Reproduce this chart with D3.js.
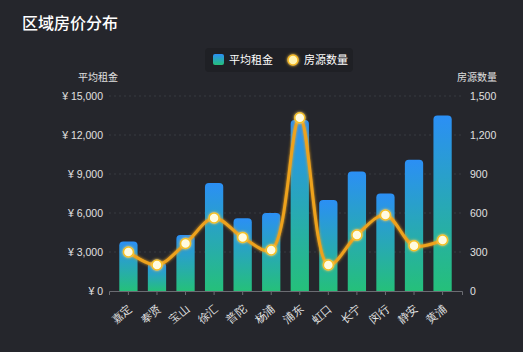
<!DOCTYPE html>
<html>
<head>
<meta charset="utf-8">
<script src="https://cdn.jsdelivr.net/npm/d3@7/dist/d3.min.js"></script>
<style>
  html, body { margin: 0; padding: 0; background: #25262c; }
  svg { display: block; font-family: "Noto Sans CJK SC", "Noto Sans", sans-serif; }
</style>
</head>
<body>
<div id="chart"></div>
<script>
// data
const districts = ["嘉定", "奉贤", "宝山", "徐汇", "普陀", "杨浦", "浦东", "虹口", "长宁", "闵行", "静安", "黄浦"]
const avgRent = [3800, 2200, 4300, 8300, 5600, 6000, 13150, 7000, 9200, 7500, 10100, 13500]
const listingCount = [300, 200, 365, 562, 412, 315, 1333, 200, 430, 585, 348, 392]
const rentTicks = [0, 3000, 6000, 9000, 12000, 15000]
const countTicks = [0, 300, 600, 900, 1200, 1500]

const W = 523, H = 352
const margin = {top: 96, right: 61, bottom: 61, left: 109},
    width = W - margin.left - margin.right,
    height = H - margin.top - margin.bottom

const svg = d3.select("#chart")
    .append("svg")
    .attr("width", W)
    .attr("height", H)

const defs = svg.append("defs")

// bar gradient blue -> green
const grad = defs.append("linearGradient")
    .attr("id", "barGrad")
    .attr("x1", 0).attr("y1", 0).attr("x2", 0).attr("y2", 1)
grad.append("stop").attr("offset", "0%").attr("stop-color", "#2b8ff5")
grad.append("stop").attr("offset", "100%").attr("stop-color", "#25c07a")

// glow for line and dots
const glow = defs.append("filter").attr("id", "glow")
    .attr("x", "-50%").attr("y", "-50%").attr("width", "200%").attr("height", "200%")
glow.append("feGaussianBlur").attr("stdDeviation", 1.5).attr("result", "blur")
const merge = glow.append("feMerge")
merge.append("feMergeNode").attr("in", "blur")
merge.append("feMergeNode").attr("in", "SourceGraphic")

// title
svg.append("text")
    .attr("x", 22).attr("y", 29)
    .attr("fill", "#ffffff")
    .style("font-size", "16px")
    .style("font-weight", "500")
    .text("区域房价分布")

// legend
const legend = svg.append("g")
legend.append("rect")
    .attr("x", 205).attr("y", 48).attr("width", 148).attr("height", 24)
    .attr("rx", 4)
    .attr("fill", "#1f2025")
legend.append("rect")
    .attr("x", 213).attr("y", 54).attr("width", 11).attr("height", 11)
    .attr("rx", 2)
    .attr("fill", "url(#barGrad)")
legend.append("text")
    .attr("x", 229).attr("y", 64)
    .attr("fill", "#ffffff")
    .style("font-size", "11px")
    .text("平均租金")
legend.append("circle")
    .attr("cx", 293).attr("cy", 60).attr("r", 5)
    .attr("fill", "#fff3b0")
    .attr("stroke", "#f5b820").attr("stroke-width", 1.5)
    .attr("filter", "url(#glow)")
legend.append("text")
    .attr("x", 304).attr("y", 64)
    .attr("fill", "#ffffff")
    .style("font-size", "11px")
    .text("房源数量")

const g = svg.append("g")
    .attr("transform", `translate(${margin.left}, ${margin.top})`)

// scales
const x = d3.scaleBand()
    .domain(districts)
    .range([0, width])
    .padding(0.36)

const yL = d3.scaleLinear().domain([0, 15000]).range([height, 0])
const yR = d3.scaleLinear().domain([0, 1500]).range([height, 0])

// grid lines
g.selectAll(".grid")
    .data(rentTicks.slice(1))
    .join("line")
    .attr("x1", 0).attr("x2", width)
    .attr("y1", d => yL(d)).attr("y2", d => yL(d))
    .attr("stroke", "#393a41")
    .attr("stroke-dasharray", "2,3")

// left axis
const leftAxis = g.append("g")
    .call(d3.axisLeft(yL).tickValues(rentTicks).tickSize(0).tickPadding(6)
        .tickFormat(d => "¥ " + d3.format(",")(d)))
leftAxis.select(".domain").remove()
leftAxis.selectAll("text").attr("fill", "#e0e0e0").style("font-size", "10.5px")

// right axis
const rightAxis = g.append("g")
    .attr("transform", `translate(${width}, 0)`)
    .call(d3.axisRight(yR).tickValues(countTicks).tickSize(0).tickPadding(8)
        .tickFormat(d3.format(",")))
rightAxis.select(".domain").remove()
rightAxis.selectAll("text").attr("fill", "#e0e0e0").style("font-size", "10.5px")

// axis names
svg.append("text")
    .attr("x", 118).attr("y", 81)
    .attr("text-anchor", "end")
    .attr("fill", "#e0e0e0")
    .style("font-size", "10px")
    .text("平均租金")
svg.append("text")
    .attr("x", 497).attr("y", 81)
    .attr("text-anchor", "end")
    .attr("fill", "#e0e0e0")
    .style("font-size", "10px")
    .text("房源数量")

// bars with rounded top
const r = 4
g.selectAll(".bar")
    .data(districts)
    .join("path")
    .attr("class", "bar")
    .attr("fill", "url(#barGrad)")
    .attr("d", function(d, i) {
        const x0 = x(d), w = x.bandwidth(), y0 = yL(avgRent[i]), b = height
        return `M${x0},${b}V${y0 + r}Q${x0},${y0} ${x0 + r},${y0}H${x0 + w - r}Q${x0 + w},${y0} ${x0 + w},${y0 + r}V${b}Z`
    })

// bottom axis
const bottomAxis = g.append("g")
    .attr("transform", `translate(0, ${height})`)
    .call(d3.axisBottom(x).tickSize(4).tickPadding(4))
bottomAxis.select(".domain").attr("stroke", "#6b6c72")
bottomAxis.selectAll(".tick line").attr("stroke", "#6b6c72")
bottomAxis.selectAll("text")
    .attr("fill", "#e8e8e8")
    .style("font-size", "11px")
    .attr("text-anchor", "end")
    .attr("x", 0).attr("y", 0).attr("dy", "0.35em")
    .attr("transform", "translate(2,16) rotate(-40)")

// line
const line = d3.line()
    .x((d, i) => x(districts[i]) + x.bandwidth() / 2)
    .y(d => yR(d))
    .curve(d3.curveCatmullRom.alpha(0.5))

g.append("path")
    .datum(listingCount)
    .attr("fill", "none")
    .attr("stroke", "#eea21c")
    .attr("stroke-width", 3)
    .attr("filter", "url(#glow)")
    .attr("d", line)

g.selectAll(".dot")
    .data(listingCount)
    .join("circle")
    .attr("cx", (d, i) => x(districts[i]) + x.bandwidth() / 2)
    .attr("cy", d => yR(d))
    .attr("r", 5)
    .attr("fill", "#fffbe0")
    .attr("stroke", "#f5c020")
    .attr("stroke-width", 1.5)
    .attr("filter", "url(#glow)")
</script>
</body>
</html>
